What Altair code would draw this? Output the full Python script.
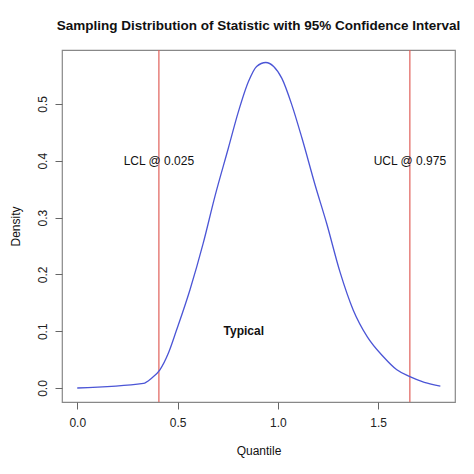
import altair as alt
import pandas as pd

# Density curve of the sampling distribution
quantile = [0.0, 0.33, 0.37, 0.412, 0.455, 0.495, 0.562, 0.628, 0.686, 0.753, 0.803,
            0.853, 0.894, 0.94, 0.979, 1.02, 1.07, 1.12, 1.186, 1.243, 1.31,
            1.376, 1.446, 1.526, 1.593, 1.658, 1.73, 1.81]
density = [0.0, 0.008, 0.017, 0.032, 0.062, 0.102, 0.173, 0.255, 0.337, 0.422, 0.486,
           0.539, 0.566, 0.573, 0.566, 0.545, 0.498, 0.44, 0.357, 0.29, 0.204,
           0.137, 0.09, 0.055, 0.032, 0.020, 0.010, 0.0035]

# Confidence limits
limit_x = [0.407, 1.658]

# Annotations
limit_text = ["LCL @ 0.025", "UCL @ 0.975"]
limit_label_y = [0.40, 0.40]
typical_text = ["Typical"]
typical_x = [0.83]
typical_y = [0.10]

curve_df = pd.DataFrame({"q": quantile, "d": density})
limits_df = pd.DataFrame({"q": limit_x})
limit_labels_df = pd.DataFrame({"q": limit_x, "d": limit_label_y, "t": limit_text})
typical_df = pd.DataFrame({"q": typical_x, "d": typical_y, "t": typical_text})

FONT = "Liberation Sans"

x_scale = alt.Scale(domain=[-0.076, 1.883], nice=False, zero=False)
y_scale = alt.Scale(domain=[-0.0246, 0.595], nice=False, zero=False)

x_axis = alt.Axis(values=[0, 0.5, 1.0, 1.5], format=".1f", title="Quantile",
                  domain=False, grid=False, tickSize=7, tickColor="#666666",
                  labelFont=FONT, labelFontSize=12, labelColor="#222222",
                  labelPadding=8, titleFont=FONT, titleFontSize=12,
                  titleFontWeight="normal", titleColor="#111111", titlePadding=17)
y_axis = alt.Axis(values=[0, 0.1, 0.2, 0.3, 0.4, 0.5], format=".1f", title="Density",
                  domain=False, grid=False, tickSize=7, tickColor="#666666",
                  labelFont=FONT, labelFontSize=12, labelColor="#222222",
                  labelAngle=-90, labelAlign="center", labelBaseline="bottom",
                  labelPadding=6, titleFont=FONT, titleFontSize=12,
                  titleFontWeight="normal", titleColor="#111111", titlePadding=14)

curve = alt.Chart(curve_df).mark_line(color="#4b55d6", strokeWidth=1.3,
                                      interpolate="monotone").encode(
    x=alt.X("q:Q", scale=x_scale, axis=x_axis),
    y=alt.Y("d:Q", scale=y_scale, axis=y_axis),
)

limits = alt.Chart(limits_df).mark_rule(color="#e0605a", strokeWidth=1.2).encode(
    x=alt.X("q:Q", scale=x_scale),
)

limit_labels = alt.Chart(limit_labels_df).mark_text(
    font=FONT, fontSize=12, color="#111111").encode(
    x=alt.X("q:Q", scale=x_scale),
    y=alt.Y("d:Q", scale=y_scale),
    text="t:N",
)

typical_label = alt.Chart(typical_df).mark_text(
    font=FONT, fontSize=12, fontWeight="bold", color="#111111").encode(
    x=alt.X("q:Q", scale=x_scale),
    y=alt.Y("d:Q", scale=y_scale),
    text="t:N",
)

chart = alt.layer(limits, curve, limit_labels, typical_label).properties(
    width=393,
    height=352,
    background="white",
    title=alt.TitleParams("Sampling Distribution of Statistic with 95% Confidence Interval",
                          font=FONT, fontSize=13.5, fontWeight="bold", color="#111111",
                          anchor="middle", offset=17),
    autosize=alt.AutoSizeParams(type="none"),
    padding={"left": 62, "top": 50, "right": 19, "bottom": 72},
).configure_view(
    stroke="#888888", strokeWidth=1.2
)

chart.save("out.html", embed_options={"renderer": "svg", "actions": False})
